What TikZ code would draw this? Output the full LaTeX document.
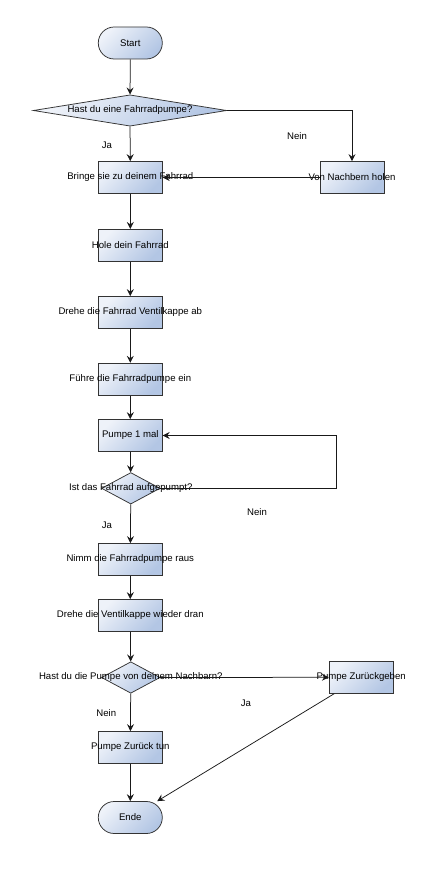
\documentclass[tikz,border=0pt]{standalone}
\usepackage{fontspec}
\setmainfont{Liberation Sans}
\usetikzlibrary{shapes.geometric,arrows.meta}
\definecolor{lite}{HTML}{EEF2F9}
\definecolor{dark}{HTML}{B3C6E4}
\definecolor{edge}{HTML}{333333}
\begin{document}
\begin{tikzpicture}[x=1pt,y=-1pt,
  base/.style={draw=edge, line width=0.75pt, top color=lite, bottom color=dark, shading angle=45, inner sep=0pt, minimum width=64pt, minimum height=32pt},
  box/.style={base, rectangle},
  term/.style={base, rectangle, rounded corners=15.9pt},
  dec/.style={base, diamond, minimum width=58.5pt, minimum height=31.5pt},
  every label/.style={font=\fontsize{9.6}{11.5}\selectfont, inner sep=0pt, text=black},
  arr/.style={draw=black!90, line width=0.75pt, -{Stealth[length=7pt,width=7pt,inset=2.5pt]}},
  lbl/.style={font=\fontsize{9.6}{11.5}\selectfont, inner sep=0pt}]
\useasboundingbox[fill=white] (0,0) rectangle (447,869);

\node[term] (start) at (130.3,43) [label=center:Start] {};
\node[dec, minimum width=193.4pt, minimum height=31.3pt] (d1) at (130,110.5) [label=center:Hast du eine Fahrradpumpe?] {};
\node[box] (bringe) at (130.3,177.5) [label=center:Bringe sie zu deinem Fahrrad] {};
\node[box] (von) at (352,177.5) [label=center:Von Nachbern holen] {};
\node[box] (hole) at (130.3,245.3) [label=center:Hole dein Fahrrad] {};
\node[box] (drehe) at (130.3,312.5) [label=center:Drehe die Fahrrad Ventilkappe ab] {};
\node[box] (fuehre) at (130.3,379.2) [label=center:Führe die Fahrradpumpe ein] {};
\node[box] (pumpe) at (130.3,435.5) [label=center:Pumpe 1 mal] {};
\node[dec] (d2) at (130.8,488.3) [label=center:Ist das Fahrrad aufgepumpt?] {};
\node[box] (nimm) at (130.3,559.5) [label=center:Nimm die Fahrradpumpe raus] {};
\node[box] (drehe2) at (130.3,615.5) [label=center:Drehe die Ventilkappe wieder dran] {};
\node[dec] (d3) at (130.8,677.5) [label=center:Hast du die Pumpe von deinem Nachbarn?] {};
\node[box] (zg) at (361.2,677.3) [label=center:Pumpe Zurückgeben] {};
\node[box] (tun) at (130.3,747.5) [label=center:Pumpe Zurück tun] {};
\node[term] (ende) at (130.3,817.5) [label=center:Ende] {};

\coordinate (loopx) at (336,0);

\draw[arr] (start) -- (d1);
\draw[arr] (d1) -- (bringe);
\draw[arr] (d1.east) -| (von.north);
\draw[arr] (von.west) -- (bringe.east);
\draw[arr] (bringe) -- (hole);
\draw[arr] (hole) -- (drehe);
\draw[arr] (drehe) -- (fuehre);
\draw[arr] (fuehre) -- (pumpe);
\draw[arr] (pumpe) -- (d2);
\draw[arr] (d2.east) -- (d2.east -| loopx) |- (pumpe.east);
\draw[arr] (d2) -- (nimm);
\draw[arr] (nimm) -- (drehe2);
\draw[arr] (drehe2) -- (d3);
\draw[arr] (d3.east) -- (zg.west);
\draw[arr] (d3) -- (tun);
\draw[arr] (tun) -- (ende);
\draw[arr] (zg) -- (ende);

\node[lbl] (l1) at (297,136.3) {Nein};
\node[lbl] (l2) at (107,145.5) {Ja};
\node[lbl] (l3) at (257,512) {Nein};
\node[lbl] (l4) at (107,525.5) {Ja};
\node[lbl] (l5) at (246,703) {Ja};
\node[lbl] (l6) at (106.3,712.8) {Nein};
\end{tikzpicture}
\end{document}
